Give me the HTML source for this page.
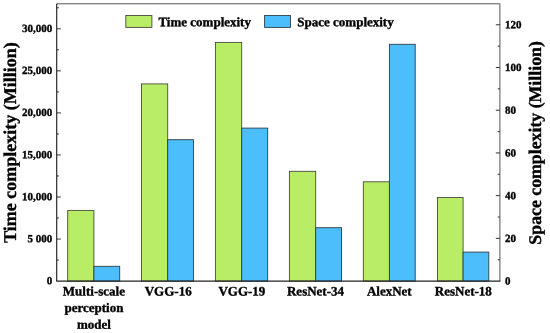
<!DOCTYPE html>
<html><head><meta charset="utf-8"><title>Complexity chart</title>
<style>
html,body{margin:0;padding:0;background:#fff;}
svg{display:block;}
text{font-family:'Liberation Serif', 'Times New Roman', serif;font-weight:bold;fill:#000;stroke:#000;stroke-width:0.35px;text-rendering:geometricPrecision;}
.tk{font-size:11px;}
.cat{font-size:13px;}
.lg{font-size:13px;}
.yl{font-size:18px;}
.yl2{font-size:17.8px;}
</style></head><body>
<svg width="550" height="333" viewBox="0 0 550 333">
<rect x="0" y="0" width="550" height="333" fill="#ffffff"/>
<rect x="67.7" y="210.4" width="26.20" height="70.70" fill="#b9ed66" stroke="#474b3e" stroke-width="0.9"/>
<rect x="93.9" y="266.3" width="25.80" height="14.80" fill="#4cbefb" stroke="#2c3f4c" stroke-width="0.9"/>
<rect x="141.5" y="83.9" width="26.20" height="197.20" fill="#b9ed66" stroke="#474b3e" stroke-width="0.9"/>
<rect x="167.7" y="139.7" width="25.70" height="141.40" fill="#4cbefb" stroke="#2c3f4c" stroke-width="0.9"/>
<rect x="215.4" y="42.4" width="26.30" height="238.70" fill="#b9ed66" stroke="#474b3e" stroke-width="0.9"/>
<rect x="241.7" y="128.1" width="26.00" height="153.00" fill="#4cbefb" stroke="#2c3f4c" stroke-width="0.9"/>
<rect x="289.4" y="171.3" width="26.30" height="109.80" fill="#b9ed66" stroke="#474b3e" stroke-width="0.9"/>
<rect x="315.7" y="227.7" width="25.80" height="53.40" fill="#4cbefb" stroke="#2c3f4c" stroke-width="0.9"/>
<rect x="363.3" y="181.8" width="26.10" height="99.30" fill="#b9ed66" stroke="#474b3e" stroke-width="0.9"/>
<rect x="389.4" y="44.3" width="25.80" height="236.80" fill="#4cbefb" stroke="#2c3f4c" stroke-width="0.9"/>
<rect x="437.5" y="197.5" width="25.60" height="83.60" fill="#b9ed66" stroke="#474b3e" stroke-width="0.9"/>
<rect x="463.1" y="252.1" width="25.70" height="29.00" fill="#4cbefb" stroke="#2c3f4c" stroke-width="0.9"/>
<polyline points="56.7,281.1 56.7,3.8 499.9,3.8 499.9,281.1" fill="none" stroke="#555" stroke-width="1"/>
<line x1="56.7" y1="3.8" x2="56.7" y2="281.1" stroke="#333" stroke-width="1"/>
<line x1="56.2" y1="281.1" x2="500.4" y2="281.1" stroke="#222" stroke-width="1.2"/>
<text class="tk" transform="translate(52.20,284.30) rotate(0.03)" text-anchor="end">0</text>
<line x1="56.7" y1="260.08" x2="58.900000000000006" y2="260.08" stroke="#333" stroke-width="1"/>
<line x1="56.7" y1="239.05" x2="60.800000000000004" y2="239.05" stroke="#333" stroke-width="1"/>
<text class="tk" transform="translate(52.20,242.25) rotate(0.03)" text-anchor="end">5 000</text>
<line x1="56.7" y1="218.03" x2="58.900000000000006" y2="218.03" stroke="#333" stroke-width="1"/>
<line x1="56.7" y1="197.00" x2="60.800000000000004" y2="197.00" stroke="#333" stroke-width="1"/>
<text class="tk" transform="translate(52.20,200.20) rotate(0.03)" text-anchor="end">10,000</text>
<line x1="56.7" y1="175.98" x2="58.900000000000006" y2="175.98" stroke="#333" stroke-width="1"/>
<line x1="56.7" y1="154.95" x2="60.800000000000004" y2="154.95" stroke="#333" stroke-width="1"/>
<text class="tk" transform="translate(52.20,158.15) rotate(0.03)" text-anchor="end">15,000</text>
<line x1="56.7" y1="133.93" x2="58.900000000000006" y2="133.93" stroke="#333" stroke-width="1"/>
<line x1="56.7" y1="112.90" x2="60.800000000000004" y2="112.90" stroke="#333" stroke-width="1"/>
<text class="tk" transform="translate(52.20,116.10) rotate(0.03)" text-anchor="end">20,000</text>
<line x1="56.7" y1="91.88" x2="58.900000000000006" y2="91.88" stroke="#333" stroke-width="1"/>
<line x1="56.7" y1="70.85" x2="60.800000000000004" y2="70.85" stroke="#333" stroke-width="1"/>
<text class="tk" transform="translate(52.20,74.05) rotate(0.03)" text-anchor="end">25,000</text>
<line x1="56.7" y1="49.83" x2="58.900000000000006" y2="49.83" stroke="#333" stroke-width="1"/>
<line x1="56.7" y1="28.80" x2="60.800000000000004" y2="28.80" stroke="#333" stroke-width="1"/>
<text class="tk" transform="translate(52.20,32.00) rotate(0.03)" text-anchor="end">30,000</text>
<line x1="56.7" y1="7.78" x2="58.900000000000006" y2="7.78" stroke="#333" stroke-width="1"/>
<text class="tk" transform="translate(504.90,284.60) rotate(0.03)" text-anchor="start">0</text>
<line x1="499.9" y1="259.74" x2="497.7" y2="259.74" stroke="#333" stroke-width="1"/>
<line x1="499.9" y1="238.38" x2="495.79999999999995" y2="238.38" stroke="#333" stroke-width="1"/>
<text class="tk" transform="translate(504.90,241.88) rotate(0.03)" text-anchor="start">20</text>
<line x1="499.9" y1="217.02" x2="497.7" y2="217.02" stroke="#333" stroke-width="1"/>
<line x1="499.9" y1="195.66" x2="495.79999999999995" y2="195.66" stroke="#333" stroke-width="1"/>
<text class="tk" transform="translate(504.90,199.16) rotate(0.03)" text-anchor="start">40</text>
<line x1="499.9" y1="174.30" x2="497.7" y2="174.30" stroke="#333" stroke-width="1"/>
<line x1="499.9" y1="152.94" x2="495.79999999999995" y2="152.94" stroke="#333" stroke-width="1"/>
<text class="tk" transform="translate(504.90,156.44) rotate(0.03)" text-anchor="start">60</text>
<line x1="499.9" y1="131.58" x2="497.7" y2="131.58" stroke="#333" stroke-width="1"/>
<line x1="499.9" y1="110.22" x2="495.79999999999995" y2="110.22" stroke="#333" stroke-width="1"/>
<text class="tk" transform="translate(504.90,113.72) rotate(0.03)" text-anchor="start">80</text>
<line x1="499.9" y1="88.86" x2="497.7" y2="88.86" stroke="#333" stroke-width="1"/>
<line x1="499.9" y1="67.50" x2="495.79999999999995" y2="67.50" stroke="#333" stroke-width="1"/>
<text class="tk" transform="translate(504.90,71.00) rotate(0.03)" text-anchor="start">100</text>
<line x1="499.9" y1="46.14" x2="497.7" y2="46.14" stroke="#333" stroke-width="1"/>
<line x1="499.9" y1="24.78" x2="495.79999999999995" y2="24.78" stroke="#333" stroke-width="1"/>
<text class="tk" transform="translate(504.90,28.28) rotate(0.03)" text-anchor="start">120</text>
<text class="cat" transform="translate(93.90,295.60) rotate(0.03)" text-anchor="middle">Multi-scale</text>
<text class="cat" transform="translate(93.90,311.90) rotate(0.03)" text-anchor="middle">perception</text>
<text class="cat" transform="translate(93.90,328.70) rotate(0.03)" text-anchor="middle">model</text>
<text class="cat" transform="translate(168.20,295.60) rotate(0.03)" text-anchor="middle">VGG-16</text>
<text class="cat" transform="translate(241.90,295.60) rotate(0.03)" text-anchor="middle">VGG-19</text>
<text class="cat" transform="translate(315.50,295.60) rotate(0.03)" text-anchor="middle">ResNet-34</text>
<text class="cat" transform="translate(389.30,295.60) rotate(0.03)" text-anchor="middle">AlexNet</text>
<text class="cat" transform="translate(463.30,295.60) rotate(0.03)" text-anchor="middle">ResNet-18</text>
<rect x="125.8" y="15.5" width="26.1" height="11.9" fill="#b9ed66" stroke="#474b3e" stroke-width="0.9"/>
<text class="lg" transform="translate(158.40,26.20) rotate(0.03)" text-anchor="start">Time complexity</text>
<rect x="264.6" y="15.5" width="25.9" height="11.9" fill="#4cbefb" stroke="#2c3f4c" stroke-width="0.9"/>
<text class="lg" transform="translate(297.30,26.20) rotate(0.03)" text-anchor="start">Space complexity</text>
<text class="yl" transform="translate(15.70,142.50) rotate(-90)" text-anchor="middle">Time complexity (Million)</text>
<text class="yl2" transform="translate(541.20,142.90) rotate(-90)" text-anchor="middle">Space complexity (Million)</text>
</svg></body></html>
